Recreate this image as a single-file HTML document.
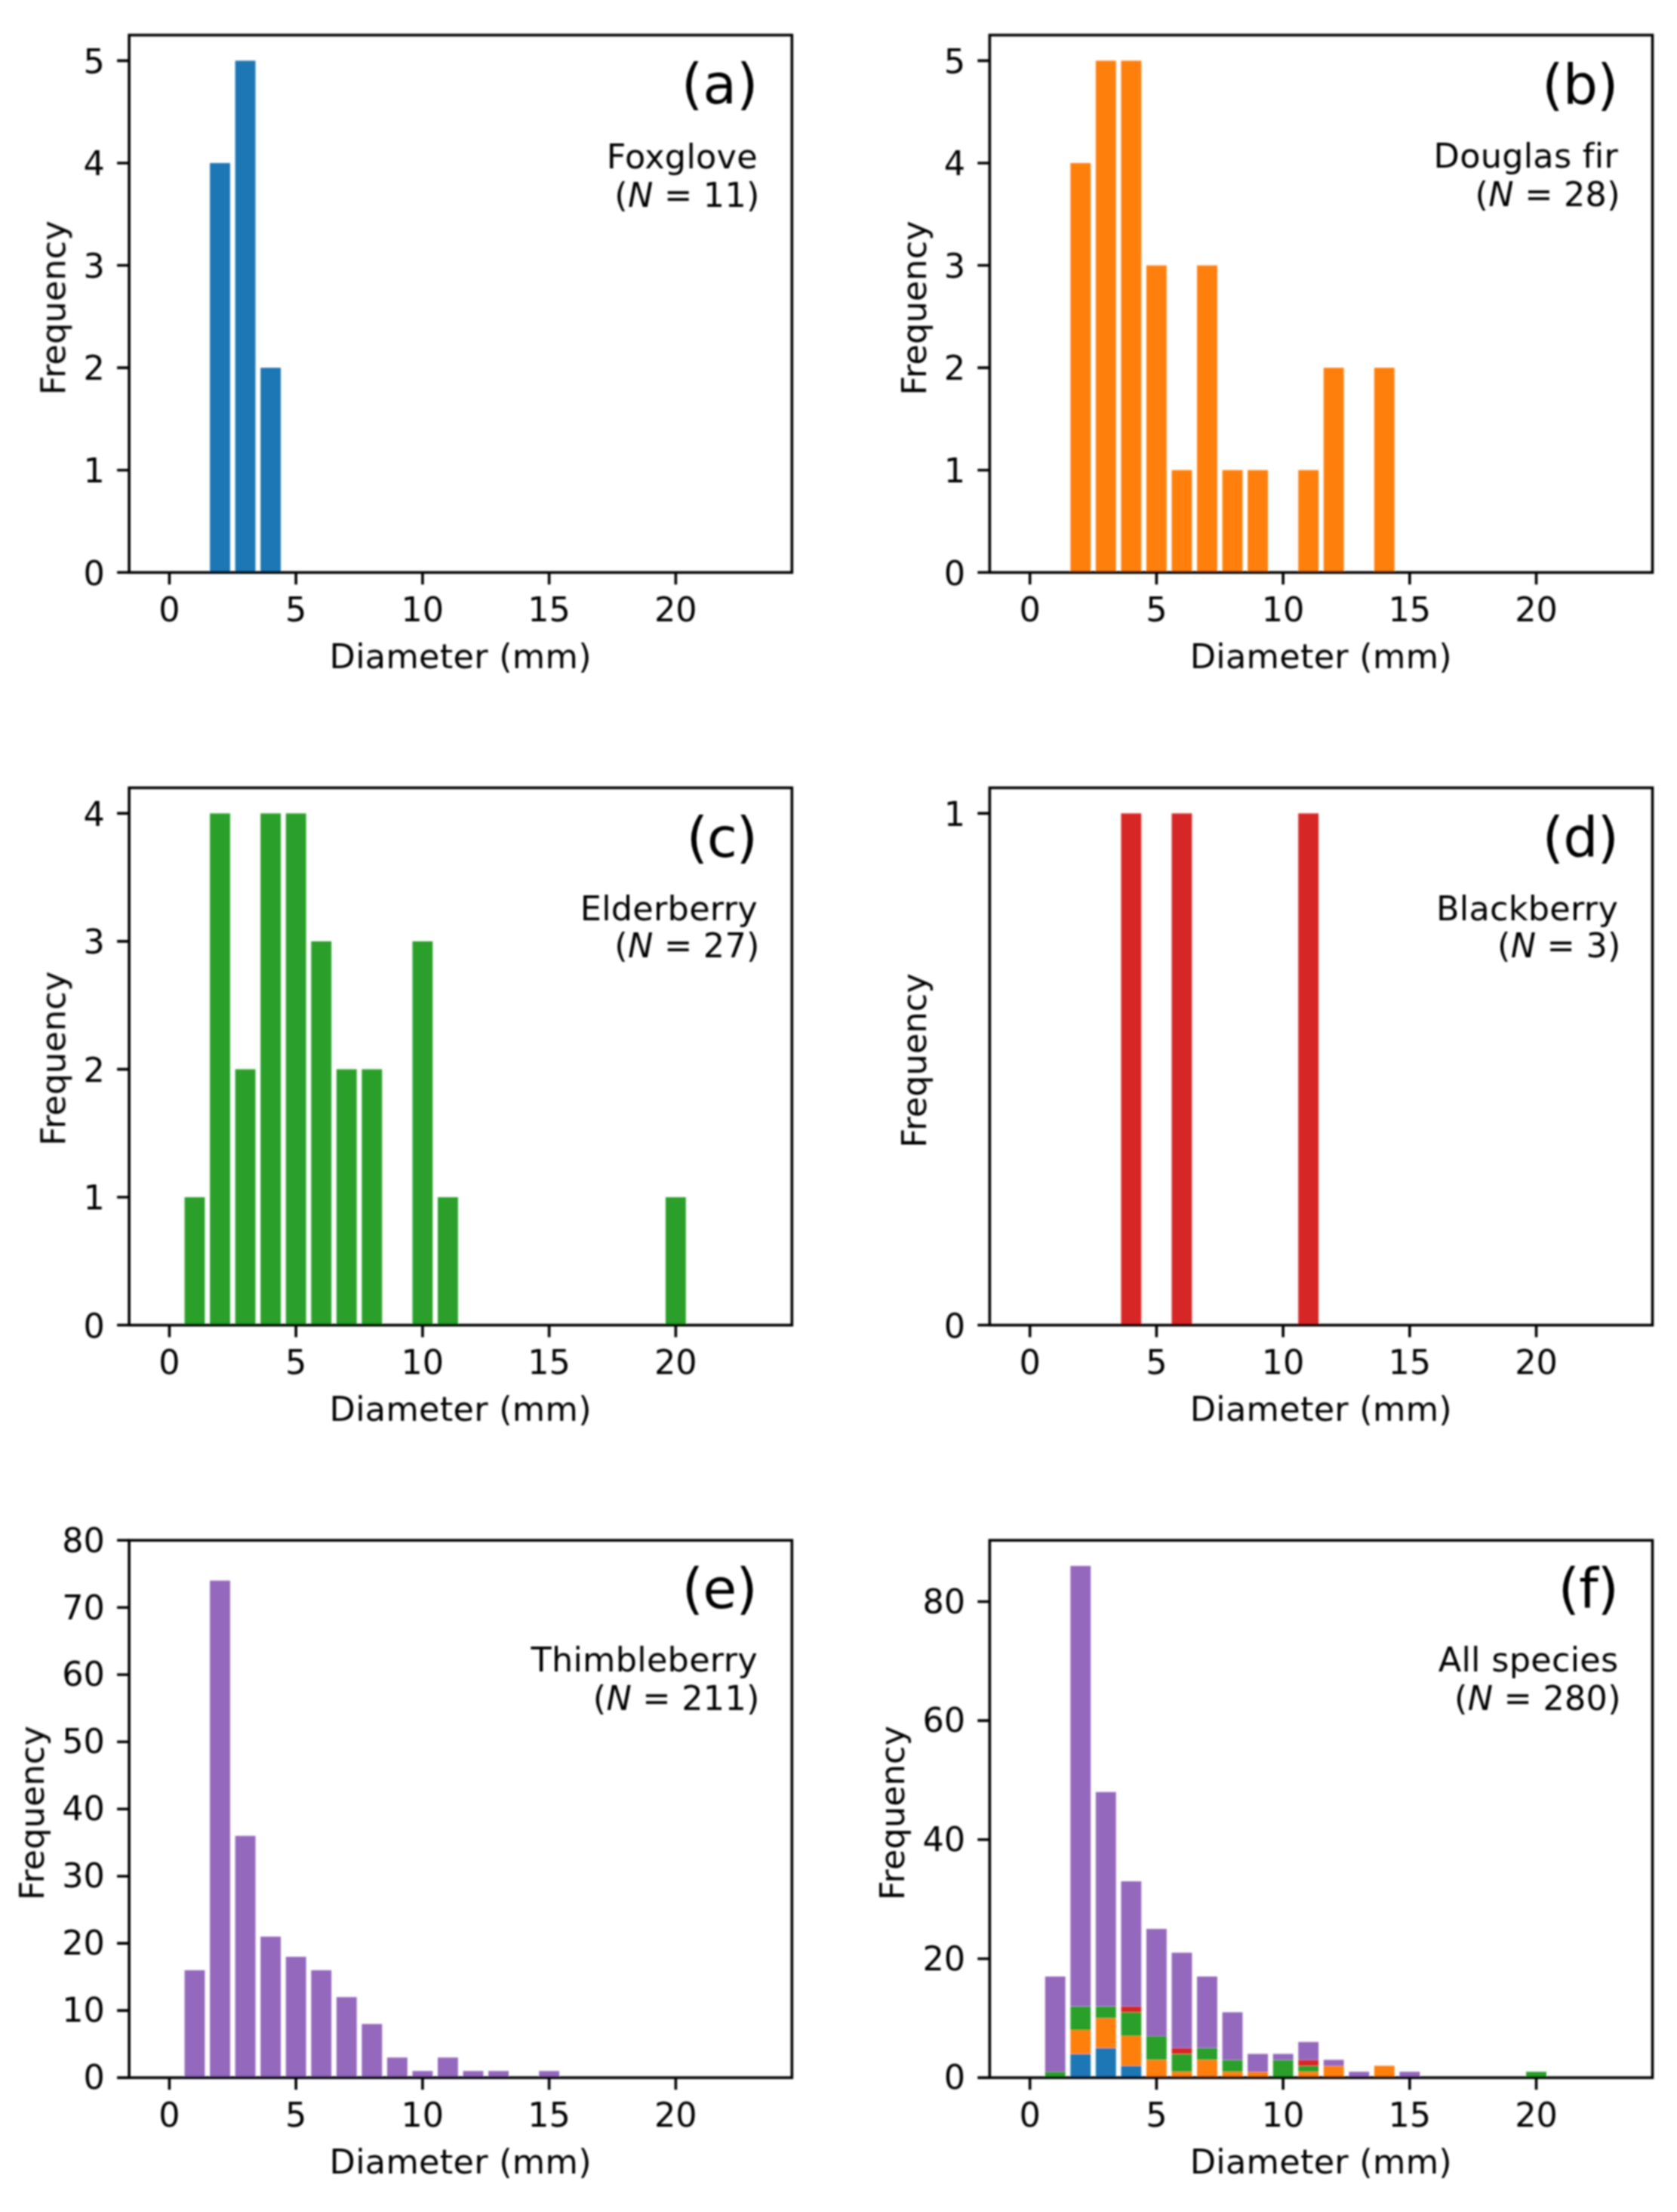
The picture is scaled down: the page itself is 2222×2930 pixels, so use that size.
<!DOCTYPE html>
<html lang="en"><head><meta charset="utf-8"><title>Diameter frequency histograms</title>
<style>html,body{margin:0;padding:0;background:#fff}svg{display:block}</style>
</head><body>
<svg width="2222" height="2930" viewBox="0 0 2222 2930" font-family='"DejaVu Sans", "Liberation Sans", sans-serif' font-size="44.5" fill="#000">
<defs><filter id="soft" x="0" y="0" width="2222" height="2930" filterUnits="userSpaceOnUse"><feGaussianBlur stdDeviation="0.85"/></filter></defs>
<rect width="2222" height="2930" fill="#fff"/>
<g filter="url(#soft)">
<g>
<rect x="278.11" y="215.98" width="26.84" height="542.32" fill="#1f77b4"/>
<rect x="311.65" y="80.40" width="26.84" height="677.90" fill="#1f77b4"/>
<rect x="345.20" y="487.14" width="26.84" height="271.16" fill="#1f77b4"/>
<path d="M224.44 758.30v16.0M392.16 758.30v16.0M559.89 758.30v16.0M727.61 758.30v16.0M895.34 758.30v16.0M171.10 758.30h-16.0M171.10 622.72h-16.0M171.10 487.14h-16.0M171.10 351.56h-16.0M171.10 215.98h-16.0M171.10 80.40h-16.0" stroke="#000" stroke-width="3.6" fill="none"/>
<rect x="171.10" y="46.50" width="878.20" height="711.80" fill="none" stroke="#000" stroke-width="3.6" stroke-linejoin="miter"/>
<text x="224.44" y="823.32" text-anchor="middle">0</text>
<text x="392.16" y="823.32" text-anchor="middle">5</text>
<text x="559.89" y="823.32" text-anchor="middle">10</text>
<text x="727.61" y="823.32" text-anchor="middle">15</text>
<text x="895.34" y="823.32" text-anchor="middle">20</text>
<text x="138.90" y="774.54" text-anchor="end">0</text>
<text x="138.90" y="638.96" text-anchor="end">1</text>
<text x="138.90" y="503.38" text-anchor="end">2</text>
<text x="138.90" y="367.80" text-anchor="end">3</text>
<text x="138.90" y="232.22" text-anchor="end">4</text>
<text x="138.90" y="96.64" text-anchor="end">5</text>
<text x="610.20" y="885.30" text-anchor="middle" letter-spacing="0.3">Diameter (mm)</text>
<text transform="translate(86.32 407.80) rotate(-90)" text-anchor="middle" letter-spacing="0.15">Frequency</text>
<text x="1004.40" y="137.20" text-anchor="end" font-size="73" letter-spacing="0">(a)</text>
<text x="1003.90" y="222.70" text-anchor="end" letter-spacing="0.3">Foxglove</text>
<text x="1006.60" y="273.70" text-anchor="end" letter-spacing="0.25">(<tspan font-style="italic">N</tspan> = 11)</text>
</g>
<g>
<rect x="1418.31" y="215.98" width="26.84" height="542.32" fill="#ff7f0e"/>
<rect x="1451.85" y="80.40" width="26.84" height="677.90" fill="#ff7f0e"/>
<rect x="1485.40" y="80.40" width="26.84" height="677.90" fill="#ff7f0e"/>
<rect x="1518.94" y="351.56" width="26.84" height="406.74" fill="#ff7f0e"/>
<rect x="1552.49" y="622.72" width="26.84" height="135.58" fill="#ff7f0e"/>
<rect x="1586.03" y="351.56" width="26.84" height="406.74" fill="#ff7f0e"/>
<rect x="1619.58" y="622.72" width="26.84" height="135.58" fill="#ff7f0e"/>
<rect x="1653.12" y="622.72" width="26.84" height="135.58" fill="#ff7f0e"/>
<rect x="1720.21" y="622.72" width="26.84" height="135.58" fill="#ff7f0e"/>
<rect x="1753.76" y="487.14" width="26.84" height="271.16" fill="#ff7f0e"/>
<rect x="1820.85" y="487.14" width="26.84" height="271.16" fill="#ff7f0e"/>
<path d="M1364.64 758.30v16.0M1532.36 758.30v16.0M1700.09 758.30v16.0M1867.81 758.30v16.0M2035.54 758.30v16.0M1311.30 758.30h-16.0M1311.30 622.72h-16.0M1311.30 487.14h-16.0M1311.30 351.56h-16.0M1311.30 215.98h-16.0M1311.30 80.40h-16.0" stroke="#000" stroke-width="3.6" fill="none"/>
<rect x="1311.30" y="46.50" width="878.20" height="711.80" fill="none" stroke="#000" stroke-width="3.6" stroke-linejoin="miter"/>
<text x="1364.64" y="823.32" text-anchor="middle">0</text>
<text x="1532.36" y="823.32" text-anchor="middle">5</text>
<text x="1700.09" y="823.32" text-anchor="middle">10</text>
<text x="1867.81" y="823.32" text-anchor="middle">15</text>
<text x="2035.54" y="823.32" text-anchor="middle">20</text>
<text x="1279.10" y="774.54" text-anchor="end">0</text>
<text x="1279.10" y="638.96" text-anchor="end">1</text>
<text x="1279.10" y="503.38" text-anchor="end">2</text>
<text x="1279.10" y="367.80" text-anchor="end">3</text>
<text x="1279.10" y="232.22" text-anchor="end">4</text>
<text x="1279.10" y="96.64" text-anchor="end">5</text>
<text x="1750.40" y="885.30" text-anchor="middle" letter-spacing="0.3">Diameter (mm)</text>
<text transform="translate(1226.52 407.80) rotate(-90)" text-anchor="middle" letter-spacing="0.15">Frequency</text>
<text x="2143.70" y="137.60" text-anchor="end" font-size="73" letter-spacing="-0.9">(b)</text>
<text x="2144.10" y="222.00" text-anchor="end" letter-spacing="0.3">Douglas fir</text>
<text x="2146.80" y="273.00" text-anchor="end" letter-spacing="0.25">(<tspan font-style="italic">N</tspan> = 28)</text>
</g>
<g>
<rect x="244.56" y="1585.82" width="26.84" height="169.48" fill="#2ca02c"/>
<rect x="278.11" y="1077.40" width="26.84" height="677.90" fill="#2ca02c"/>
<rect x="311.65" y="1416.35" width="26.84" height="338.95" fill="#2ca02c"/>
<rect x="345.20" y="1077.40" width="26.84" height="677.90" fill="#2ca02c"/>
<rect x="378.74" y="1077.40" width="26.84" height="677.90" fill="#2ca02c"/>
<rect x="412.29" y="1246.87" width="26.84" height="508.43" fill="#2ca02c"/>
<rect x="445.83" y="1416.35" width="26.84" height="338.95" fill="#2ca02c"/>
<rect x="479.38" y="1416.35" width="26.84" height="338.95" fill="#2ca02c"/>
<rect x="546.47" y="1246.87" width="26.84" height="508.43" fill="#2ca02c"/>
<rect x="580.01" y="1585.82" width="26.84" height="169.48" fill="#2ca02c"/>
<rect x="881.92" y="1585.82" width="26.84" height="169.48" fill="#2ca02c"/>
<path d="M224.44 1755.30v16.0M392.16 1755.30v16.0M559.89 1755.30v16.0M727.61 1755.30v16.0M895.34 1755.30v16.0M171.10 1755.30h-16.0M171.10 1585.82h-16.0M171.10 1416.35h-16.0M171.10 1246.87h-16.0M171.10 1077.40h-16.0" stroke="#000" stroke-width="3.6" fill="none"/>
<rect x="171.10" y="1043.50" width="878.20" height="711.80" fill="none" stroke="#000" stroke-width="3.6" stroke-linejoin="miter"/>
<text x="224.44" y="1820.32" text-anchor="middle">0</text>
<text x="392.16" y="1820.32" text-anchor="middle">5</text>
<text x="559.89" y="1820.32" text-anchor="middle">10</text>
<text x="727.61" y="1820.32" text-anchor="middle">15</text>
<text x="895.34" y="1820.32" text-anchor="middle">20</text>
<text x="138.90" y="1771.54" text-anchor="end">0</text>
<text x="138.90" y="1602.07" text-anchor="end">1</text>
<text x="138.90" y="1432.59" text-anchor="end">2</text>
<text x="138.90" y="1263.11" text-anchor="end">3</text>
<text x="138.90" y="1093.64" text-anchor="end">4</text>
<text x="610.20" y="1882.30" text-anchor="middle" letter-spacing="0.3">Diameter (mm)</text>
<text transform="translate(86.32 1402.20) rotate(-90)" text-anchor="middle" letter-spacing="0.15">Frequency</text>
<text x="1002.80" y="1134.60" text-anchor="end" font-size="73" letter-spacing="-1.3">(c)</text>
<text x="1003.90" y="1218.50" text-anchor="end" letter-spacing="0.3">Elderberry</text>
<text x="1006.60" y="1268.40" text-anchor="end" letter-spacing="0.25">(<tspan font-style="italic">N</tspan> = 27)</text>
</g>
<g>
<rect x="1485.40" y="1077.40" width="26.84" height="677.90" fill="#d62728"/>
<rect x="1552.49" y="1077.40" width="26.84" height="677.90" fill="#d62728"/>
<rect x="1720.21" y="1077.40" width="26.84" height="677.90" fill="#d62728"/>
<path d="M1364.64 1755.30v16.0M1532.36 1755.30v16.0M1700.09 1755.30v16.0M1867.81 1755.30v16.0M2035.54 1755.30v16.0M1311.30 1755.30h-16.0M1311.30 1077.40h-16.0" stroke="#000" stroke-width="3.6" fill="none"/>
<rect x="1311.30" y="1043.50" width="878.20" height="711.80" fill="none" stroke="#000" stroke-width="3.6" stroke-linejoin="miter"/>
<text x="1364.64" y="1820.32" text-anchor="middle">0</text>
<text x="1532.36" y="1820.32" text-anchor="middle">5</text>
<text x="1700.09" y="1820.32" text-anchor="middle">10</text>
<text x="1867.81" y="1820.32" text-anchor="middle">15</text>
<text x="2035.54" y="1820.32" text-anchor="middle">20</text>
<text x="1279.10" y="1771.54" text-anchor="end">0</text>
<text x="1279.10" y="1093.64" text-anchor="end">1</text>
<text x="1750.40" y="1882.30" text-anchor="middle" letter-spacing="0.3">Diameter (mm)</text>
<text transform="translate(1226.52 1404.70) rotate(-90)" text-anchor="middle" letter-spacing="0.15">Frequency</text>
<text x="2144.20" y="1134.60" text-anchor="end" font-size="73" letter-spacing="-0.9">(d)</text>
<text x="2144.10" y="1218.50" text-anchor="end" letter-spacing="0.3">Blackberry</text>
<text x="2147.70" y="1268.40" text-anchor="end" letter-spacing="0.25">(<tspan font-style="italic">N</tspan> = 3)</text>
</g>
<g>
<rect x="244.56" y="2609.74" width="26.84" height="142.36" fill="#9467bd"/>
<rect x="278.11" y="2093.68" width="26.84" height="658.41" fill="#9467bd"/>
<rect x="311.65" y="2431.79" width="26.84" height="320.31" fill="#9467bd"/>
<rect x="345.20" y="2565.25" width="26.84" height="186.85" fill="#9467bd"/>
<rect x="378.74" y="2591.94" width="26.84" height="160.15" fill="#9467bd"/>
<rect x="412.29" y="2609.74" width="26.84" height="142.36" fill="#9467bd"/>
<rect x="445.83" y="2645.33" width="26.84" height="106.77" fill="#9467bd"/>
<rect x="479.38" y="2680.92" width="26.84" height="71.18" fill="#9467bd"/>
<rect x="512.92" y="2725.41" width="26.84" height="26.69" fill="#9467bd"/>
<rect x="546.47" y="2743.20" width="26.84" height="8.90" fill="#9467bd"/>
<rect x="580.01" y="2725.41" width="26.84" height="26.69" fill="#9467bd"/>
<rect x="613.56" y="2743.20" width="26.84" height="8.90" fill="#9467bd"/>
<rect x="647.10" y="2743.20" width="26.84" height="8.90" fill="#9467bd"/>
<rect x="714.19" y="2743.20" width="26.84" height="8.90" fill="#9467bd"/>
<path d="M224.44 2752.10v16.0M392.16 2752.10v16.0M559.89 2752.10v16.0M727.61 2752.10v16.0M895.34 2752.10v16.0M171.10 2752.10h-16.0M171.10 2663.12h-16.0M171.10 2574.15h-16.0M171.10 2485.18h-16.0M171.10 2396.20h-16.0M171.10 2307.22h-16.0M171.10 2218.25h-16.0M171.10 2129.28h-16.0M171.10 2040.30h-16.0" stroke="#000" stroke-width="3.6" fill="none"/>
<rect x="171.10" y="2040.30" width="878.20" height="711.80" fill="none" stroke="#000" stroke-width="3.6" stroke-linejoin="miter"/>
<text x="224.44" y="2817.12" text-anchor="middle">0</text>
<text x="392.16" y="2817.12" text-anchor="middle">5</text>
<text x="559.89" y="2817.12" text-anchor="middle">10</text>
<text x="727.61" y="2817.12" text-anchor="middle">15</text>
<text x="895.34" y="2817.12" text-anchor="middle">20</text>
<text x="138.90" y="2767.34" text-anchor="end">0</text>
<text x="138.90" y="2678.37" text-anchor="end">10</text>
<text x="138.90" y="2589.39" text-anchor="end">20</text>
<text x="138.90" y="2500.42" text-anchor="end">30</text>
<text x="138.90" y="2411.44" text-anchor="end">40</text>
<text x="138.90" y="2322.47" text-anchor="end">50</text>
<text x="138.90" y="2233.49" text-anchor="end">60</text>
<text x="138.90" y="2144.52" text-anchor="end">70</text>
<text x="138.90" y="2055.54" text-anchor="end">80</text>
<text x="610.20" y="2879.10" text-anchor="middle" letter-spacing="0.3">Diameter (mm)</text>
<text transform="translate(58.02 2401.60) rotate(-90)" text-anchor="middle" letter-spacing="0.15">Frequency</text>
<text x="1003.00" y="2130.30" text-anchor="end" font-size="73" letter-spacing="-0.8">(e)</text>
<text x="1003.90" y="2214.40" text-anchor="end" letter-spacing="0.3">Thimbleberry</text>
<text x="1006.60" y="2265.40" text-anchor="end" letter-spacing="0.25">(<tspan font-style="italic">N</tspan> = 211)</text>
</g>
<g>
<rect x="1418.31" y="2720.57" width="26.84" height="31.53" fill="#1f77b4"/>
<rect x="1451.85" y="2712.69" width="26.84" height="39.41" fill="#1f77b4"/>
<rect x="1485.40" y="2736.33" width="26.84" height="15.77" fill="#1f77b4"/>
<rect x="1418.31" y="2689.04" width="26.84" height="31.53" fill="#ff7f0e"/>
<rect x="1451.85" y="2673.27" width="26.84" height="39.41" fill="#ff7f0e"/>
<rect x="1485.40" y="2696.92" width="26.84" height="39.41" fill="#ff7f0e"/>
<rect x="1518.94" y="2728.45" width="26.84" height="23.65" fill="#ff7f0e"/>
<rect x="1552.49" y="2744.22" width="26.84" height="7.88" fill="#ff7f0e"/>
<rect x="1586.03" y="2728.45" width="26.84" height="23.65" fill="#ff7f0e"/>
<rect x="1619.58" y="2744.22" width="26.84" height="7.88" fill="#ff7f0e"/>
<rect x="1653.12" y="2744.22" width="26.84" height="7.88" fill="#ff7f0e"/>
<rect x="1720.21" y="2744.22" width="26.84" height="7.88" fill="#ff7f0e"/>
<rect x="1753.76" y="2736.33" width="26.84" height="15.77" fill="#ff7f0e"/>
<rect x="1820.85" y="2736.33" width="26.84" height="15.77" fill="#ff7f0e"/>
<rect x="1384.76" y="2744.22" width="26.84" height="7.88" fill="#2ca02c"/>
<rect x="1418.31" y="2657.51" width="26.84" height="31.53" fill="#2ca02c"/>
<rect x="1451.85" y="2657.51" width="26.84" height="15.77" fill="#2ca02c"/>
<rect x="1485.40" y="2665.39" width="26.84" height="31.53" fill="#2ca02c"/>
<rect x="1518.94" y="2696.92" width="26.84" height="31.53" fill="#2ca02c"/>
<rect x="1552.49" y="2720.57" width="26.84" height="23.65" fill="#2ca02c"/>
<rect x="1586.03" y="2712.69" width="26.84" height="15.77" fill="#2ca02c"/>
<rect x="1619.58" y="2728.45" width="26.84" height="15.77" fill="#2ca02c"/>
<rect x="1686.67" y="2728.45" width="26.84" height="23.65" fill="#2ca02c"/>
<rect x="1720.21" y="2736.33" width="26.84" height="7.88" fill="#2ca02c"/>
<rect x="2022.12" y="2744.22" width="26.84" height="7.88" fill="#2ca02c"/>
<rect x="1485.40" y="2657.51" width="26.84" height="7.88" fill="#d62728"/>
<rect x="1552.49" y="2712.69" width="26.84" height="7.88" fill="#d62728"/>
<rect x="1720.21" y="2728.45" width="26.84" height="7.88" fill="#d62728"/>
<rect x="1384.76" y="2618.10" width="26.84" height="126.12" fill="#9467bd"/>
<rect x="1418.31" y="2074.20" width="26.84" height="583.31" fill="#9467bd"/>
<rect x="1451.85" y="2373.73" width="26.84" height="283.77" fill="#9467bd"/>
<rect x="1485.40" y="2491.97" width="26.84" height="165.53" fill="#9467bd"/>
<rect x="1518.94" y="2555.03" width="26.84" height="141.89" fill="#9467bd"/>
<rect x="1552.49" y="2586.57" width="26.84" height="126.12" fill="#9467bd"/>
<rect x="1586.03" y="2618.10" width="26.84" height="94.59" fill="#9467bd"/>
<rect x="1619.58" y="2665.39" width="26.84" height="63.06" fill="#9467bd"/>
<rect x="1653.12" y="2720.57" width="26.84" height="23.65" fill="#9467bd"/>
<rect x="1686.67" y="2720.57" width="26.84" height="7.88" fill="#9467bd"/>
<rect x="1720.21" y="2704.80" width="26.84" height="23.65" fill="#9467bd"/>
<rect x="1753.76" y="2728.45" width="26.84" height="7.88" fill="#9467bd"/>
<rect x="1787.30" y="2744.22" width="26.84" height="7.88" fill="#9467bd"/>
<rect x="1854.39" y="2744.22" width="26.84" height="7.88" fill="#9467bd"/>
<path d="M1364.64 2752.10v16.0M1532.36 2752.10v16.0M1700.09 2752.10v16.0M1867.81 2752.10v16.0M2035.54 2752.10v16.0M1311.30 2752.10h-16.0M1311.30 2594.45h-16.0M1311.30 2436.80h-16.0M1311.30 2279.14h-16.0M1311.30 2121.49h-16.0" stroke="#000" stroke-width="3.6" fill="none"/>
<rect x="1311.30" y="2040.30" width="878.20" height="711.80" fill="none" stroke="#000" stroke-width="3.6" stroke-linejoin="miter"/>
<text x="1364.64" y="2817.12" text-anchor="middle">0</text>
<text x="1532.36" y="2817.12" text-anchor="middle">5</text>
<text x="1700.09" y="2817.12" text-anchor="middle">10</text>
<text x="1867.81" y="2817.12" text-anchor="middle">15</text>
<text x="2035.54" y="2817.12" text-anchor="middle">20</text>
<text x="1279.10" y="2767.34" text-anchor="end">0</text>
<text x="1279.10" y="2609.69" text-anchor="end">20</text>
<text x="1279.10" y="2452.04" text-anchor="end">40</text>
<text x="1279.10" y="2294.39" text-anchor="end">60</text>
<text x="1279.10" y="2136.73" text-anchor="end">80</text>
<text x="1750.40" y="2879.10" text-anchor="middle" letter-spacing="0.3">Diameter (mm)</text>
<text transform="translate(1198.22 2401.40) rotate(-90)" text-anchor="middle" letter-spacing="0.15">Frequency</text>
<text x="2144.10" y="2130.10" text-anchor="end" font-size="73" letter-spacing="-1.0">(f)</text>
<text x="2144.50" y="2213.50" text-anchor="end" letter-spacing="0.3">All species</text>
<text x="2147.80" y="2264.80" text-anchor="end" letter-spacing="0.25">(<tspan font-style="italic">N</tspan> = 280)</text>
</g>
</g>
</svg>
</body></html>
